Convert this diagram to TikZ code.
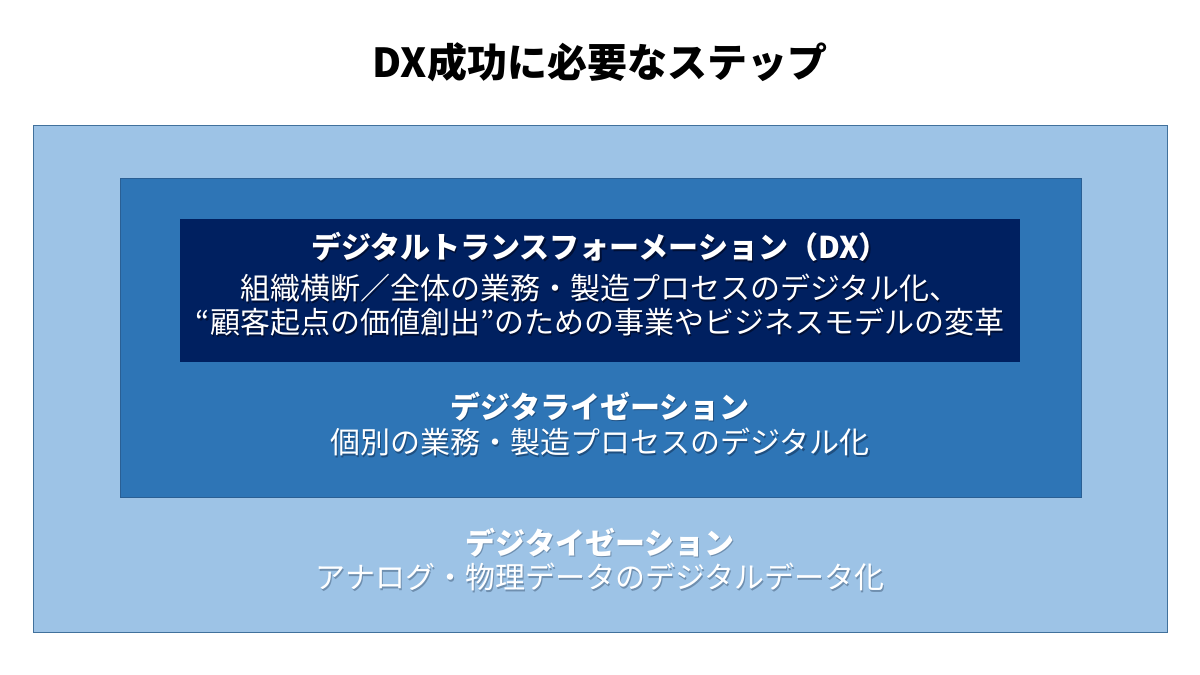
\documentclass[tikz,border=0pt]{standalone}
\usepackage{fontspec}
\setmainfont{Noto Sans CJK JP}
\definecolor{outerfill}{HTML}{9DC3E6}
\definecolor{outerline}{HTML}{41719C}
\definecolor{midfill}{HTML}{2E75B6}
\definecolor{midline}{HTML}{2A5F94}
\definecolor{innerfill}{HTML}{002060}
\definecolor{shdouter}{HTML}{6F8FAF}
\definecolor{shdmid}{HTML}{1F4F80}
\definecolor{shdinner}{HTML}{000F35}
\newcommand{\shd}[2]{\makebox[0pt][l]{\kern1.3pt\raisebox{-1.3pt}{\textcolor{#1}{#2}}}#2}
\tikzset{
  boxbase/.style={anchor=north west, inner sep=0pt, outer sep=0pt},
  outerbox/.style={boxbase, fill=outerfill, draw=outerline, line width=1pt},
  midbox/.style={boxbase, fill=midfill, draw=midline, line width=1pt},
  innerbox/.style={boxbase, fill=innerfill},
  headtxt/.style={text=white, inner sep=0pt, font=\bfseries\fontsize{30}{34}\selectfont},
  bodytxt/.style={text=white, inner sep=0pt, align=center, font=\fontsize{30}{34}\selectfont},
}
\begin{document}
\begin{tikzpicture}[x=1pt,y=-1pt]
\useasboundingbox[fill=white] (0,0) rectangle (1200,675);
\node[font=\bfseries\fontsize{40}{48}\selectfont, inner sep=0pt] (title) at (600,62) {DX成功に必要なステップ};
\node[outerbox, minimum width=1134pt, minimum height=507pt] (outer) at (33,125) {};
\node[midbox, minimum width=961pt, minimum height=319pt] (mid) at (120,178) {};
\node[innerbox, minimum width=840pt, minimum height=143pt] (inner) at (180,219) {};
\node[headtxt] (dxhead) at (600,248) {\shd{shdinner}{デジタルトランスフォーメーション（DX）}};
\node[bodytxt] (dxbody) at (600,306) {\shd{shdinner}{組織横断／全体の業務・製造プロセスのデジタル化、}\\\shd{shdinner}{“顧客起点の価値創出”のための事業やビジネスモデルの変革}};
\node[headtxt] (dzhead) at (600,407) {\shd{shdmid}{デジタライゼーション}};
\node[bodytxt] (dzbody) at (600,443) {\shd{shdmid}{個別の業務・製造プロセスのデジタル化}};
\node[headtxt] (dghead) at (600,543) {\shd{shdouter}{デジタイゼーション}};
\node[bodytxt] (dgbody) at (600,578) {\shd{shdouter}{アナログ・物理データのデジタルデータ化}};
\end{tikzpicture}
\end{document}
